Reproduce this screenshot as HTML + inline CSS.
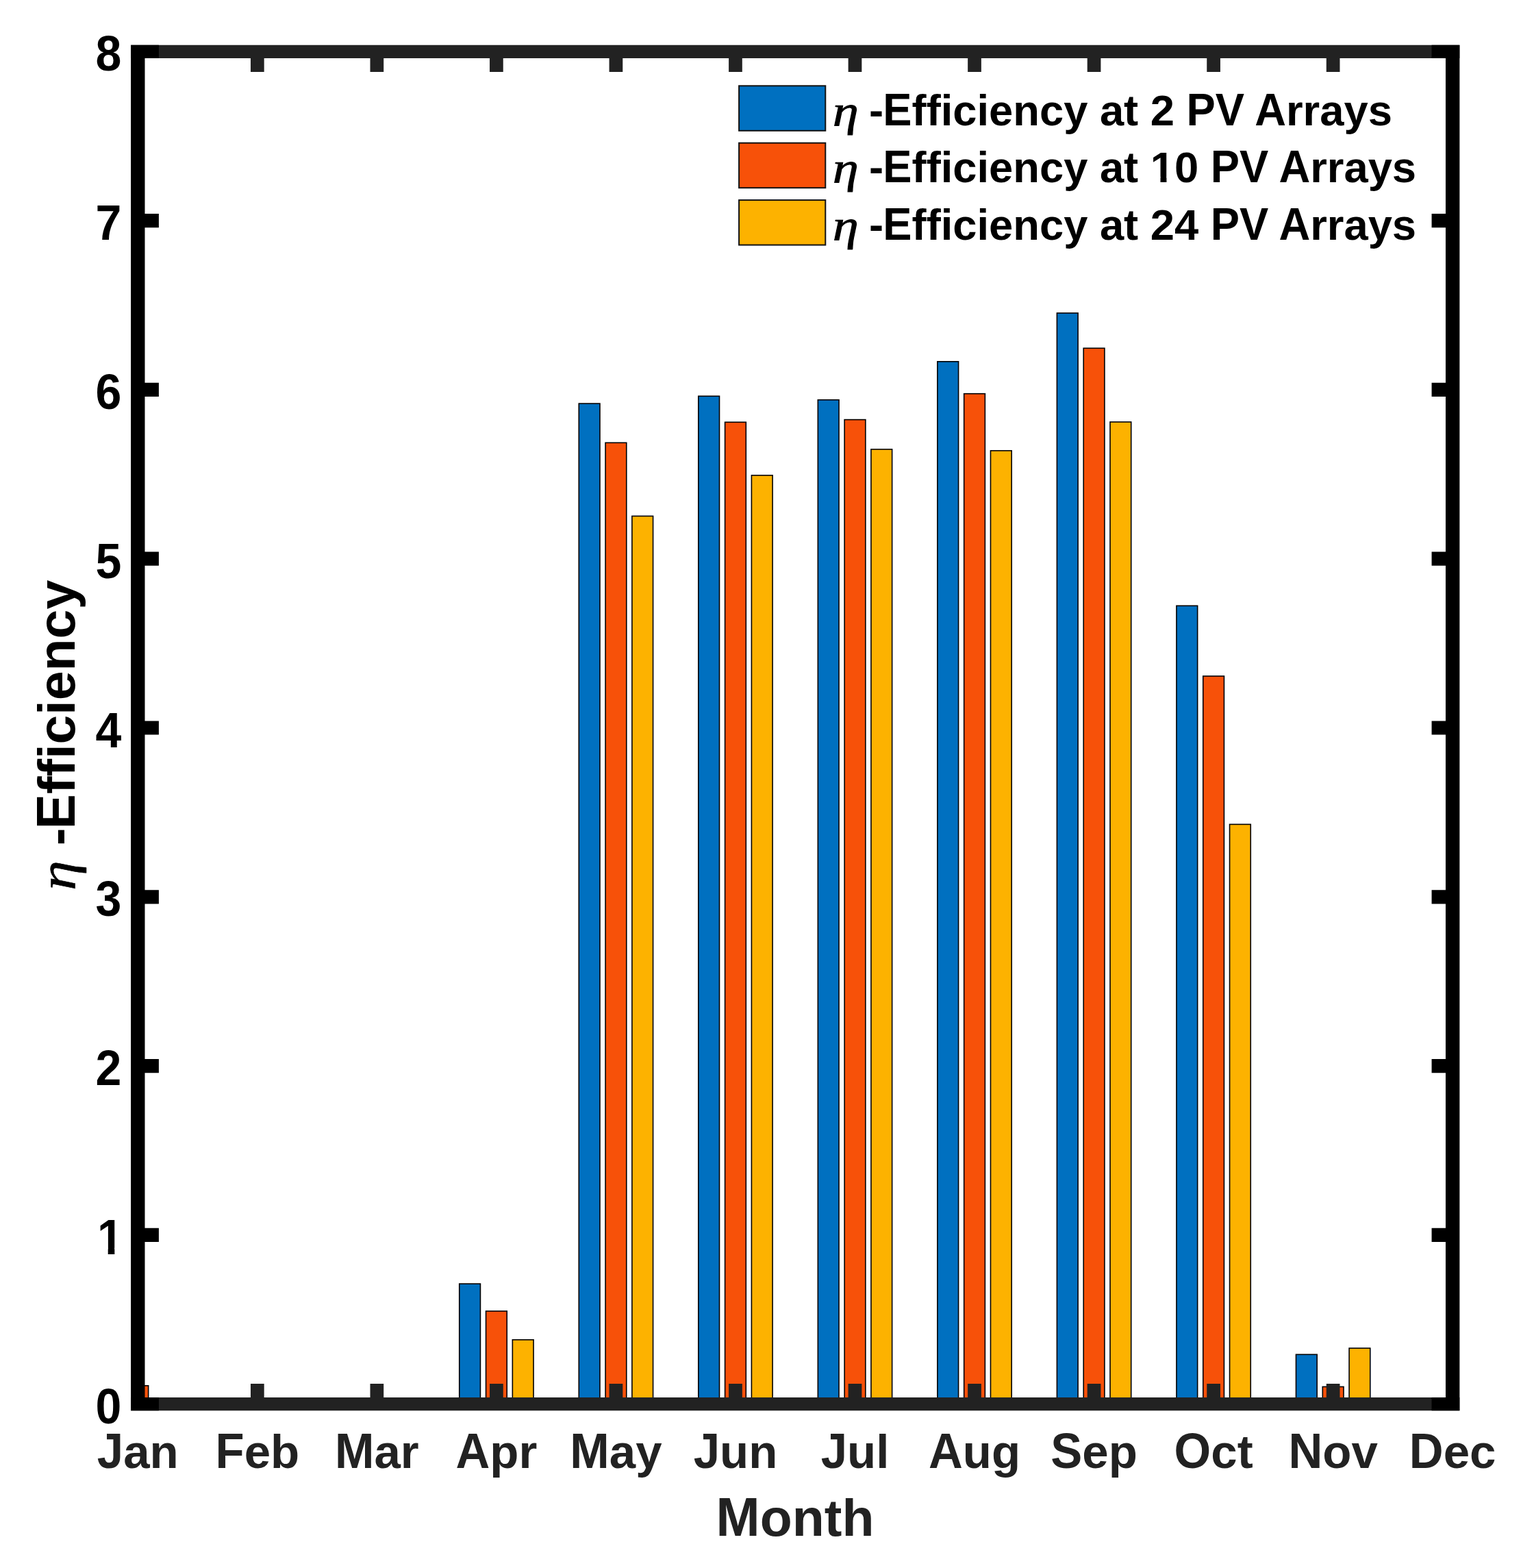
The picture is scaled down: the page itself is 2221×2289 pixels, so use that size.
<!DOCTYPE html>
<html><head><meta charset="utf-8"><title>Efficiency chart</title><style>html,body{margin:0;padding:0;background:#fff;overflow:hidden;}svg{display:block;} text{font-variant-ligatures:none;}</style></head><body>
<svg width="2221" height="2289" viewBox="0 0 2221 2289">
<rect x="0" y="0" width="2221" height="2289" fill="#ffffff"/>
<defs><clipPath id="pa"><rect x="201.3" y="75.35" width="1919.8500000000001" height="1974.3000000000002"/></clipPath></defs>
<g clip-path="url(#pa)">
<rect x="185.95" y="2022.80" width="30.70" height="26.85" fill="#F75109" stroke="#000" stroke-width="1.6"/>
<rect x="670.75" y="1874.10" width="30.70" height="175.55" fill="#0070C0" stroke="#000" stroke-width="1.6"/>
<rect x="709.55" y="1914.00" width="30.70" height="135.65" fill="#F75109" stroke="#000" stroke-width="1.6"/>
<rect x="748.35" y="1955.80" width="30.70" height="93.85" fill="#FDB200" stroke="#000" stroke-width="1.6"/>
<rect x="845.28" y="589.10" width="30.70" height="1460.55" fill="#0070C0" stroke="#000" stroke-width="1.6"/>
<rect x="884.08" y="646.30" width="30.70" height="1403.35" fill="#F75109" stroke="#000" stroke-width="1.6"/>
<rect x="922.88" y="753.40" width="30.70" height="1296.25" fill="#FDB200" stroke="#000" stroke-width="1.6"/>
<rect x="1019.81" y="578.30" width="30.70" height="1471.35" fill="#0070C0" stroke="#000" stroke-width="1.6"/>
<rect x="1058.61" y="616.30" width="30.70" height="1433.35" fill="#F75109" stroke="#000" stroke-width="1.6"/>
<rect x="1097.41" y="693.90" width="30.70" height="1355.75" fill="#FDB200" stroke="#000" stroke-width="1.6"/>
<rect x="1194.34" y="583.70" width="30.70" height="1465.95" fill="#0070C0" stroke="#000" stroke-width="1.6"/>
<rect x="1233.14" y="612.60" width="30.70" height="1437.05" fill="#F75109" stroke="#000" stroke-width="1.6"/>
<rect x="1271.94" y="655.90" width="30.70" height="1393.75" fill="#FDB200" stroke="#000" stroke-width="1.6"/>
<rect x="1368.87" y="527.80" width="30.70" height="1521.85" fill="#0070C0" stroke="#000" stroke-width="1.6"/>
<rect x="1407.67" y="574.70" width="30.70" height="1474.95" fill="#F75109" stroke="#000" stroke-width="1.6"/>
<rect x="1446.47" y="657.90" width="30.70" height="1391.75" fill="#FDB200" stroke="#000" stroke-width="1.6"/>
<rect x="1543.40" y="457.00" width="30.70" height="1592.65" fill="#0070C0" stroke="#000" stroke-width="1.6"/>
<rect x="1582.20" y="508.30" width="30.70" height="1541.35" fill="#F75109" stroke="#000" stroke-width="1.6"/>
<rect x="1621.00" y="616.00" width="30.70" height="1433.65" fill="#FDB200" stroke="#000" stroke-width="1.6"/>
<rect x="1717.94" y="884.30" width="30.70" height="1165.35" fill="#0070C0" stroke="#000" stroke-width="1.6"/>
<rect x="1756.74" y="987.00" width="30.70" height="1062.65" fill="#F75109" stroke="#000" stroke-width="1.6"/>
<rect x="1795.54" y="1203.40" width="30.70" height="846.25" fill="#FDB200" stroke="#000" stroke-width="1.6"/>
<rect x="1892.47" y="1977.30" width="30.70" height="72.35" fill="#0070C0" stroke="#000" stroke-width="1.6"/>
<rect x="1931.27" y="2024.40" width="30.70" height="25.25" fill="#F75109" stroke="#000" stroke-width="1.6"/>
<rect x="1970.07" y="1968.10" width="30.70" height="81.55" fill="#FDB200" stroke="#000" stroke-width="1.6"/>
</g>
<path fill="#222222" d="M191.10,2040.00h1940.25v19.30h-1940.25z M191.10,65.70h1940.25v19.30h-1940.25z M365.98,2020.10h19.70v20.40h-19.70z M365.98,84.50h19.70v20.40h-19.70z M540.51,2020.10h19.70v20.40h-19.70z M540.51,84.50h19.70v20.40h-19.70z M715.05,2020.10h19.70v20.40h-19.70z M715.05,84.50h19.70v20.40h-19.70z M889.58,2020.10h19.70v20.40h-19.70z M889.58,84.50h19.70v20.40h-19.70z M1064.11,2020.10h19.70v20.40h-19.70z M1064.11,84.50h19.70v20.40h-19.70z M1238.64,2020.10h19.70v20.40h-19.70z M1238.64,84.50h19.70v20.40h-19.70z M1413.17,2020.10h19.70v20.40h-19.70z M1413.17,84.50h19.70v20.40h-19.70z M1587.70,2020.10h19.70v20.40h-19.70z M1587.70,84.50h19.70v20.40h-19.70z M1762.24,2020.10h19.70v20.40h-19.70z M1762.24,84.50h19.70v20.40h-19.70z M1936.77,2020.10h19.70v20.40h-19.70z M1936.77,84.50h19.70v20.40h-19.70z"/>
<path fill="#000" d="M191.10,65.70h20.40v1993.60h-20.40z M2110.95,65.70h20.40v1993.60h-20.40z M211.00,2040.00h20.90v19.30h-20.90z M2090.55,2040.00h20.90v19.30h-20.90z M211.00,1792.76h20.90v20.20h-20.90z M2090.55,1792.76h20.90v20.20h-20.90z M211.00,1545.98h20.90v20.20h-20.90z M2090.55,1545.98h20.90v20.20h-20.90z M211.00,1299.19h20.90v20.20h-20.90z M2090.55,1299.19h20.90v20.20h-20.90z M211.00,1052.40h20.90v20.20h-20.90z M2090.55,1052.40h20.90v20.20h-20.90z M211.00,805.61h20.90v20.20h-20.90z M2090.55,805.61h20.90v20.20h-20.90z M211.00,558.82h20.90v20.20h-20.90z M2090.55,558.82h20.90v20.20h-20.90z M211.00,312.04h20.90v20.20h-20.90z M2090.55,312.04h20.90v20.20h-20.90z M211.00,65.70h20.90v19.30h-20.90z M2090.55,65.70h20.90v19.30h-20.90z"/>
<g font-family="'Liberation Sans', Arial, Helvetica, sans-serif" font-weight="bold">
<text transform="translate(177.30,2077.65) scale(0.965,1.035)" font-size="70.5" fill="#000" text-anchor="end" >0</text>
<text transform="translate(179.80,1830.86) scale(0.965,1.035)" font-size="70.5" fill="#000" text-anchor="end" clip-path="url(#cy1)">1</text>
<text transform="translate(177.30,1584.08) scale(0.965,1.035)" font-size="70.5" fill="#000" text-anchor="end" >2</text>
<text transform="translate(177.30,1337.29) scale(0.965,1.035)" font-size="70.5" fill="#000" text-anchor="end" >3</text>
<text transform="translate(177.30,1090.50) scale(0.965,1.035)" font-size="70.5" fill="#000" text-anchor="end" >4</text>
<text transform="translate(177.30,843.71) scale(0.965,1.035)" font-size="70.5" fill="#000" text-anchor="end" >5</text>
<text transform="translate(177.30,596.92) scale(0.965,1.035)" font-size="70.5" fill="#000" text-anchor="end" >6</text>
<text transform="translate(177.30,350.14) scale(0.965,1.035)" font-size="70.5" fill="#000" text-anchor="end" >7</text>
<text transform="translate(177.30,103.35) scale(0.965,1.035)" font-size="70.5" fill="#000" text-anchor="end" >8</text>
</g>
<g font-family="'Liberation Sans', Arial, Helvetica, sans-serif" font-weight="bold">
<text transform="translate(201.30,2142.90) scale(1,0.983)" font-size="69.0" fill="#222222" text-anchor="middle" ><tspan font-size="73.05" textLength="38.36" lengthAdjust="spacingAndGlyphs">J</tspan>an</text>
<text transform="translate(375.83,2142.90) scale(1,0.983)" font-size="69.0" fill="#222222" text-anchor="middle" ><tspan font-size="73.05" textLength="42.14" lengthAdjust="spacingAndGlyphs">F</tspan>eb</text>
<text transform="translate(550.36,2142.90) scale(1,0.983)" font-size="69.0" fill="#222222" text-anchor="middle" ><tspan font-size="73.05" textLength="57.47" lengthAdjust="spacingAndGlyphs">M</tspan>ar</text>
<text transform="translate(724.90,2142.90) scale(1,0.983)" font-size="69.0" fill="#222222" text-anchor="middle" ><tspan font-size="73.05" textLength="49.83" lengthAdjust="spacingAndGlyphs">A</tspan>pr</text>
<text transform="translate(899.43,2142.90) scale(1,0.983)" font-size="69.0" fill="#222222" text-anchor="middle" ><tspan font-size="73.05" textLength="57.47" lengthAdjust="spacingAndGlyphs">M</tspan>ay</text>
<text transform="translate(1073.96,2142.90) scale(1,0.983)" font-size="69.0" fill="#222222" text-anchor="middle" ><tspan font-size="73.05" textLength="38.36" lengthAdjust="spacingAndGlyphs">J</tspan>un</text>
<text transform="translate(1248.49,2142.90) scale(1,0.983)" font-size="69.0" fill="#222222" text-anchor="middle" ><tspan font-size="73.05" textLength="38.36" lengthAdjust="spacingAndGlyphs">J</tspan>ul</text>
<text transform="translate(1423.02,2142.90) scale(1,0.983)" font-size="69.0" fill="#222222" text-anchor="middle" ><tspan font-size="73.05" textLength="49.83" lengthAdjust="spacingAndGlyphs">A</tspan>ug</text>
<text transform="translate(1597.55,2142.90) scale(1,0.983)" font-size="69.0" fill="#222222" text-anchor="middle" ><tspan font-size="73.05" textLength="46.02" lengthAdjust="spacingAndGlyphs">S</tspan>ep</text>
<text transform="translate(1772.09,2142.90) scale(1,0.983)" font-size="69.0" fill="#222222" text-anchor="middle" ><tspan font-size="73.05" textLength="53.66" lengthAdjust="spacingAndGlyphs">O</tspan>ct</text>
<text transform="translate(1946.62,2142.90) scale(1,0.983)" font-size="69.0" fill="#222222" text-anchor="middle" ><tspan font-size="73.05" textLength="49.83" lengthAdjust="spacingAndGlyphs">N</tspan>ov</text>
<text transform="translate(2121.15,2142.90) scale(1,0.983)" font-size="69.0" fill="#222222" text-anchor="middle" ><tspan font-size="73.05" textLength="49.83" lengthAdjust="spacingAndGlyphs">D</tspan>ec</text>
</g>
<g font-family="'Liberation Sans', Arial, Helvetica, sans-serif" font-weight="bold"><text transform="translate(1161.00,2241.60) scale(1,0.983)" font-size="77" fill="#222222" text-anchor="middle" ><tspan font-size="81.52" textLength="64.14" lengthAdjust="spacingAndGlyphs">M</tspan>onth</text></g>
<g transform="translate(108.9,0) rotate(-90)">
<g font-family="'Liberation Sans', Arial, Helvetica, sans-serif" font-weight="bold"><text transform="translate(-1300.00,0.00) scale(1,0.983)" font-size="77.0" fill="#000" text-anchor="start" ><tspan dy="1.50" font-family="'Liberation Serif', 'Times New Roman', serif" font-style="italic" font-weight="normal" font-size="78.33" textLength="43.93" lengthAdjust="spacingAndGlyphs" stroke="#000" stroke-width="0.6">η</tspan><tspan dy="-1.50" dx="0.48"> </tspan>-<tspan dx="-1.90" font-size="81.52" textLength="51.36" lengthAdjust="spacingAndGlyphs">E</tspan>fficiency</text></g>
</g>
<rect x="1079.1" y="125.30" width="126.2" height="65.5" fill="#0070C0" stroke="#111" stroke-width="2"/>
<g font-family="'Liberation Sans', Arial, Helvetica, sans-serif" font-weight="bold"><text transform="translate(1216.00,183.00) scale(1,0.983)" font-size="63.3" fill="#000" text-anchor="start" ><tspan font-family="'Liberation Serif', 'Times New Roman', serif" font-style="italic" font-weight="normal" font-size="64.39" textLength="37.68" lengthAdjust="spacingAndGlyphs" stroke="#000" stroke-width="0.99">η</tspan><tspan dx="-2.27"> </tspan>-<tspan dx="-0.70" font-size="67.02" textLength="42.22" lengthAdjust="spacingAndGlyphs">E</tspan>fficiency at<tspan font-size="64.95" textLength="52.80" lengthAdjust="spacingAndGlyphs"> 2</tspan><tspan font-size="67.02" textLength="162.97" lengthAdjust="spacingAndGlyphs"> PV A</tspan>rrays</text></g>
<rect x="1079.1" y="208.70" width="126.2" height="65.5" fill="#F75109" stroke="#111" stroke-width="2"/>
<g font-family="'Liberation Sans', Arial, Helvetica, sans-serif" font-weight="bold"><text transform="translate(1216.00,266.40) scale(1,0.983)" font-size="63.3" fill="#000" text-anchor="start" clip-path="url(#cl10)"><tspan font-family="'Liberation Serif', 'Times New Roman', serif" font-style="italic" font-weight="normal" font-size="64.39" textLength="37.68" lengthAdjust="spacingAndGlyphs" stroke="#000" stroke-width="0.99">η</tspan><tspan dx="-2.27"> </tspan>-<tspan dx="-0.70" font-size="67.02" textLength="42.22" lengthAdjust="spacingAndGlyphs">E</tspan>fficiency at<tspan font-size="64.95" textLength="88.00" lengthAdjust="spacingAndGlyphs"> 10</tspan><tspan font-size="67.02" textLength="162.97" lengthAdjust="spacingAndGlyphs"> PV A</tspan>rrays</text></g>
<rect x="1079.1" y="292.10" width="126.2" height="65.5" fill="#FDB200" stroke="#111" stroke-width="2"/>
<g font-family="'Liberation Sans', Arial, Helvetica, sans-serif" font-weight="bold"><text transform="translate(1216.00,349.80) scale(1,0.983)" font-size="63.3" fill="#000" text-anchor="start" ><tspan font-family="'Liberation Serif', 'Times New Roman', serif" font-style="italic" font-weight="normal" font-size="64.39" textLength="37.68" lengthAdjust="spacingAndGlyphs" stroke="#000" stroke-width="0.99">η</tspan><tspan dx="-2.27"> </tspan>-<tspan dx="-0.70" font-size="67.02" textLength="42.22" lengthAdjust="spacingAndGlyphs">E</tspan>fficiency at<tspan font-size="64.95" textLength="88.00" lengthAdjust="spacingAndGlyphs"> 24</tspan><tspan font-size="67.02" textLength="162.97" lengthAdjust="spacingAndGlyphs"> PV A</tspan>rrays</text></g>
<defs><clipPath id="cy1" clipPathUnits="userSpaceOnUse"><path clip-rule="evenodd" d="M-6000,-600H6000V600H-6000Z M-36.15,-8.92H-22.89V20H-36.15Z M-12.94,-8.92H-0.59V20H-12.94Z"/></clipPath><clipPath id="cl10" clipPathUnits="userSpaceOnUse"><path clip-rule="evenodd" d="M-6000,-600H6000V600H-6000Z M466.60,-8.21H478.50V20H466.60Z M487.43,-8.21H498.53V20H487.43Z"/></clipPath></defs>
</svg>
</body></html>
